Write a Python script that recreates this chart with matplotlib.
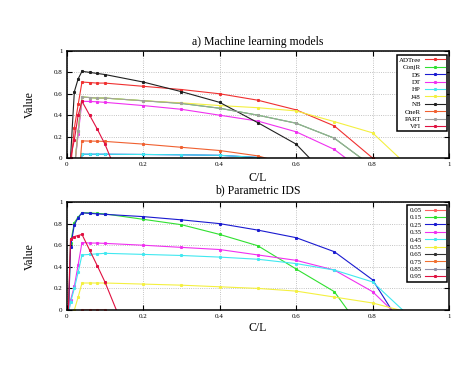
import matplotlib
matplotlib.use("Agg")
import matplotlib.pyplot as plt
import numpy as np

plt.rcParams["font.family"] = ["Liberation Serif", "DejaVu Serif"]

# C/L sample points shared by every curve
cl = [0, 0.01, 0.02, 0.03, 0.04, 0.06, 0.08, 0.1, 0.2, 0.3, 0.4, 0.5, 0.6, 0.7, 0.8, 0.9, 1.0]

# a) machine learning models (values below 0 fall outside the plotted range)
adtree = [-1.0, -0.1, 0.28, 0.50, 0.71, 0.705, 0.70, 0.70, 0.67, 0.64, 0.60, 0.54, 0.45, 0.30, 0.0, -0.4, -0.8]
part = [-1.0, -0.6, -0.1, 0.25, 0.57, 0.565, 0.56, 0.56, 0.535, 0.51, 0.465, 0.40, 0.325, 0.185, -0.08, -0.4, -0.7]
conjr = list(part)
hp = [-1.0, -0.8, -0.6, -0.3, 0.035, 0.035, 0.035, 0.035, 0.033, 0.03, 0.025, 0.005, -0.05, -0.2, -0.4, -0.6, -0.8]
ds = list(hp)
dt = [-1.0, -0.6, -0.1, 0.22, 0.53, 0.528, 0.525, 0.52, 0.49, 0.455, 0.40, 0.345, 0.245, 0.08, -0.19, -0.5, -0.8]
j48 = [-1.0, -0.6, -0.1, 0.25, 0.57, 0.565, 0.56, 0.56, 0.535, 0.515, 0.49, 0.47, 0.44, 0.34, 0.235, -0.10, -0.5]
nb = [-1.0, 0.0, 0.62, 0.74, 0.81, 0.80, 0.79, 0.78, 0.71, 0.62, 0.52, 0.33, 0.13, -0.24, -0.6, -1.0, -1.4]
oner = [-1.0, -0.8, -0.5, -0.25, 0.16, 0.158, 0.157, 0.155, 0.13, 0.10, 0.07, 0.02, -0.08, -0.2, -0.4, -0.6, -0.8]
vfi = [-1.0, 0.0, 0.17, 0.40, 0.53, 0.40, 0.27, 0.13, -0.74, -1.5, -2.0, -2.5, -3.0, -3.5, -4.0, -4.5, -5.0]

models = ["ADTree", "ConjR", "DS", "DT", "HP", "J48", "NB", "OneR", "PART", "VFI"]
model_vals = [adtree, conjr, ds, dt, hp, j48, nb, oner, part, vfi]
model_colors = ["#f03030", "#30e030", "#1a1ad0", "#f030f0", "#40e8f0",
                "#f4f040", "#202020", "#f06030", "#a0a0a0", "#e01040"]

# b) parametric IDS
p05 = [-0.1, -0.1, -0.1, -0.1, 0.0, 0.0, 0.0, 0.0, -0.1, -0.1, -0.1, -0.1, -0.1, -0.1, -0.1, -0.1, -0.1]
p15 = [-0.6, 0.62, 0.81, 0.86, 0.90, 0.90, 0.895, 0.89, 0.84, 0.79, 0.70, 0.595, 0.38, 0.17, -0.32, -0.8, -1.2]
p25 = [-0.6, 0.58, 0.79, 0.855, 0.90, 0.895, 0.89, 0.886, 0.865, 0.835, 0.80, 0.74, 0.67, 0.54, 0.28, -0.28, -0.8]
p35 = [-0.15, 0.09, 0.22, 0.42, 0.625, 0.62, 0.62, 0.617, 0.60, 0.58, 0.56, 0.51, 0.46, 0.37, 0.17, -0.17, -0.5]
p45 = [-0.12, 0.07, 0.20, 0.35, 0.51, 0.515, 0.52, 0.525, 0.515, 0.505, 0.49, 0.47, 0.43, 0.37, 0.26, -0.07, -0.4]
p55 = [-0.6, -0.3, 0.0, 0.12, 0.25, 0.25, 0.25, 0.25, 0.24, 0.23, 0.215, 0.20, 0.175, 0.12, 0.065, -0.028, -0.12]
p65 = [-0.05] * len(cl)
p75 = [-0.05] * len(cl)
p85 = [-0.05] * len(cl)
p95 = [-0.5, 0.66, 0.68, 0.69, 0.70, 0.555, 0.41, 0.26, -0.61, -1.5, -2.0, -2.5, -3.0, -3.5, -4.0, -4.5, -5.0]

thresholds = ["0.05", "0.15", "0.25", "0.35", "0.45", "0.55", "0.65", "0.75", "0.85", "0.95"]
thr_vals = [p05, p15, p25, p35, p45, p55, p65, p75, p85, p95]
thr_colors = ["#ff6060", "#30e030", "#1a1ad0", "#f030f0", "#40e8f0",
              "#f4f040", "#303030", "#f07030", "#9090a8", "#e01040"]

fig = plt.figure(figsize=(4.74, 3.66), dpi=100)
ax1 = fig.add_axes([0.1407, 0.5683, 0.8066, 0.2924])
ax2 = fig.add_axes([0.1407, 0.153, 0.8066, 0.295])


def draw(ax, names, vals, colors, leg_anchor):
    for name, v, c in zip(names, vals, colors):
        ax.plot(cl, v, color=c, lw=0.8, marker="s", markersize=1.2, label=name)
    ax.set_xlim(0, 1)
    ax.set_ylim(0, 1)
    ticks = np.arange(0, 1.01, 0.2)
    ax.set_xticks(ticks)
    ax.set_yticks(ticks)
    ax.set_xticklabels(["%g" % t for t in ticks])
    ax.set_yticklabels(["%g" % t for t in ticks])
    ax.tick_params(direction="in", top=True, right=True, length=3.5, width=0.8,
                   labelsize=5, pad=3)
    ax.grid(True, color="#b0b0b0", linestyle=":", linewidth=0.6)
    for s in ax.spines.values():
        s.set_linewidth(1.1)
    leg = ax.legend(loc="upper right", bbox_to_anchor=leg_anchor, fontsize=5,
                    markerfirst=False, numpoints=1, handlelength=2.9,
                    handletextpad=0.5, labelspacing=0.22, borderpad=0.3,
                    borderaxespad=0, fancybox=False, framealpha=1,
                    edgecolor="black")
    leg.get_frame().set_linewidth(1.1)


draw(ax1, models, model_vals, model_colors, (0.994, 0.963))
draw(ax2, thresholds, thr_vals, thr_colors, (0.996, 0.972))

fig.text(0.543, 0.885, "a) Machine learning models", ha="center", va="center", fontsize=8.5)
fig.text(0.543, 0.514, "C/L", ha="center", va="center", fontsize=8.5)
fig.text(0.543, 0.481, "b) Parametric IDS", ha="center", va="center", fontsize=8.5)
fig.text(0.543, 0.104, "C/L", ha="center", va="center", fontsize=8.5)
fig.text(0.063, 0.714, "Value", ha="center", va="center", rotation=90, fontsize=8.5)
fig.text(0.063, 0.30, "Value", ha="center", va="center", rotation=90, fontsize=8.5)

fig.savefig("out.png", dpi=100)
